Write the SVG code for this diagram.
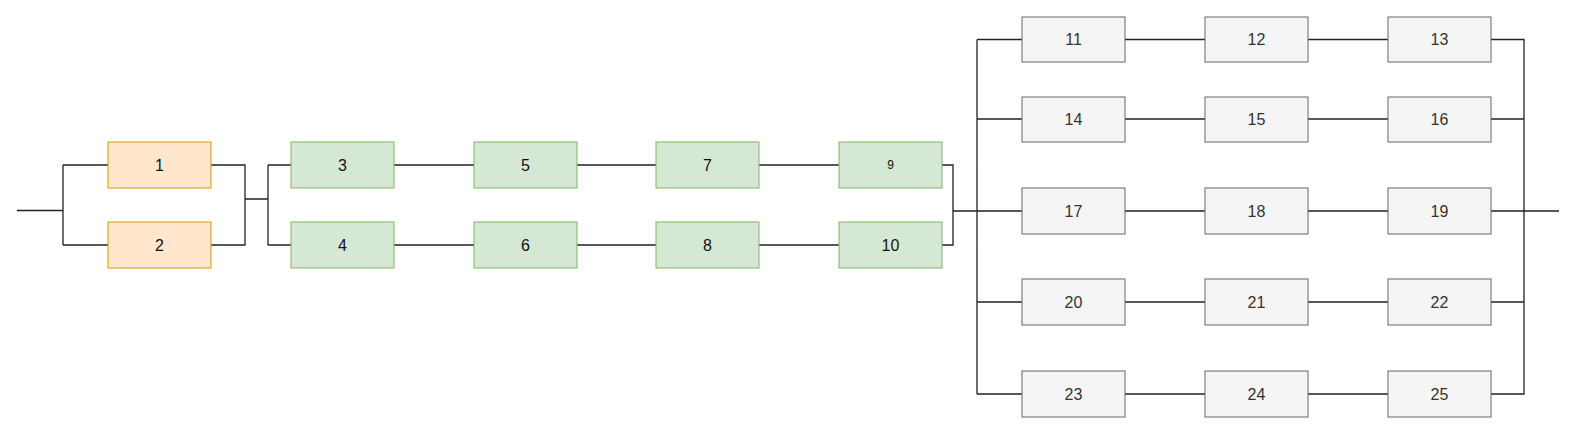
<svg xmlns="http://www.w3.org/2000/svg" width="1582" height="441" viewBox="0 0 1582 441">
<style>
.o rect{fill:#ffe6cc;stroke:#d79b00}
.g rect{fill:#d5e8d4;stroke:#82b366}
.n rect{fill:#f5f5f5;stroke:#666}
text{font-family:"Liberation Sans",Arial,sans-serif;font-size:16px;fill:#111;text-anchor:middle;dominant-baseline:central}
.n text{fill:#333}
#edges path{fill:none;stroke:#222;stroke-width:1.3}
</style>
<rect width="1582" height="441" fill="#fff"/>
<g id="edges">
<path d="M17 210.5H63M63 165V245M63 165H108M63 245H108"/>
<path d="M211 165H245V245H211M245 199H268M268 165V245M268 165H291M268 245H291"/>
<path d="M394 165H474M577 165H656M759 165H839M394 245H474M577 245H656M759 245H839"/>
<path d="M942 165H953V245H942M953 211H977M977 39.5V394M977 39.5H1022M977 119H1022M977 211H1022M977 302H1022M977 394H1022"/>
<path d="M1125 39.5H1205M1308 39.5H1388M1125 119H1205M1308 119H1388M1125 211H1205M1308 211H1388M1125 302H1205M1308 302H1388M1125 394H1205M1308 394H1388"/>
<path d="M1491 39.5H1524V394H1491M1491 119H1524M1491 302H1524M1491 211H1559"/>
</g>
<g id="n1" class="o"><rect x="108" y="142" width="103" height="46"/><text x="159.5" y="165">1</text></g>
<g id="n2" class="o"><rect x="108" y="222" width="103" height="46"/><text x="159.5" y="245">2</text></g>
<g id="n3" class="g"><rect x="291" y="142" width="103" height="46"/><text x="342.5" y="165">3</text></g>
<g id="n4" class="g"><rect x="291" y="222" width="103" height="46"/><text x="342.5" y="245">4</text></g>
<g id="n5" class="g"><rect x="474" y="142" width="103" height="46"/><text x="525.5" y="165">5</text></g>
<g id="n6" class="g"><rect x="474" y="222" width="103" height="46"/><text x="525.5" y="245">6</text></g>
<g id="n7" class="g"><rect x="656" y="142" width="103" height="46"/><text x="707.5" y="165">7</text></g>
<g id="n8" class="g"><rect x="656" y="222" width="103" height="46"/><text x="707.5" y="245">8</text></g>
<g id="n9" class="g"><rect x="839" y="142" width="103" height="46"/><text x="890.5" y="165" style="font-size:12px">9</text></g>
<g id="n10" class="g"><rect x="839" y="222" width="103" height="46"/><text x="890.5" y="245">10</text></g>
<g id="n11" class="n"><rect x="1022" y="17" width="103" height="45"/><text x="1073.5" y="39.5">11</text></g>
<g id="n12" class="n"><rect x="1205" y="17" width="103" height="45"/><text x="1256.5" y="39.5">12</text></g>
<g id="n13" class="n"><rect x="1388" y="17" width="103" height="45"/><text x="1439.5" y="39.5">13</text></g>
<g id="n14" class="n"><rect x="1022" y="97" width="103" height="45"/><text x="1073.5" y="119">14</text></g>
<g id="n15" class="n"><rect x="1205" y="97" width="103" height="45"/><text x="1256.5" y="119">15</text></g>
<g id="n16" class="n"><rect x="1388" y="97" width="103" height="45"/><text x="1439.5" y="119">16</text></g>
<g id="n17" class="n"><rect x="1022" y="188" width="103" height="46"/><text x="1073.5" y="211">17</text></g>
<g id="n18" class="n"><rect x="1205" y="188" width="103" height="46"/><text x="1256.5" y="211">18</text></g>
<g id="n19" class="n"><rect x="1388" y="188" width="103" height="46"/><text x="1439.5" y="211">19</text></g>
<g id="n20" class="n"><rect x="1022" y="279" width="103" height="46"/><text x="1073.5" y="302">20</text></g>
<g id="n21" class="n"><rect x="1205" y="279" width="103" height="46"/><text x="1256.5" y="302">21</text></g>
<g id="n22" class="n"><rect x="1388" y="279" width="103" height="46"/><text x="1439.5" y="302">22</text></g>
<g id="n23" class="n"><rect x="1022" y="371" width="103" height="46"/><text x="1073.5" y="394">23</text></g>
<g id="n24" class="n"><rect x="1205" y="371" width="103" height="46"/><text x="1256.5" y="394">24</text></g>
<g id="n25" class="n"><rect x="1388" y="371" width="103" height="46"/><text x="1439.5" y="394">25</text></g>
</svg>
